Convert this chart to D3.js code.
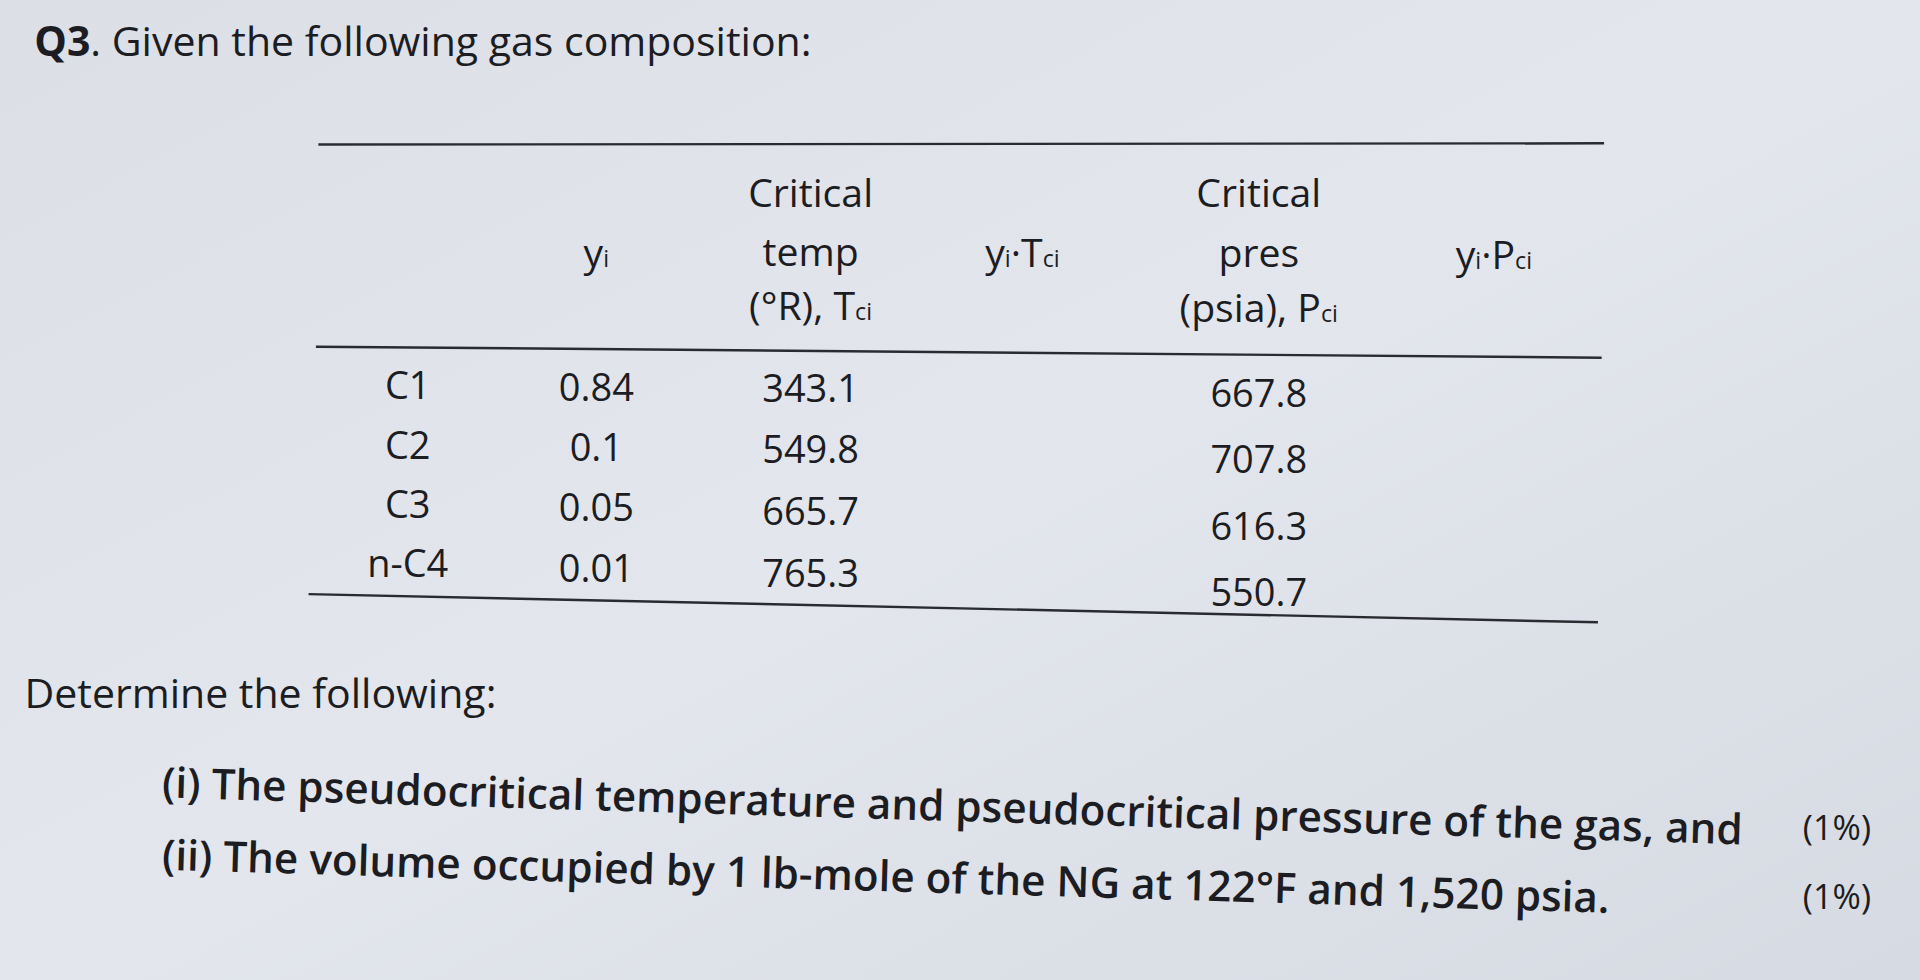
<!DOCTYPE html>
<html><head><meta charset="utf-8">
<script src="https://cdn.jsdelivr.net/npm/d3@7"></script>
<style>
html,body{margin:0;padding:0;overflow:hidden;background:#dfe3ea}
text{font-family:"Open Sans","Noto Sans",sans-serif;fill:#1c1d22;font-weight:500}
</style></head>
<body>
<script>
// table data
var components = ['C1', 'C2', 'C3', 'n-C4'];
var molFrac    = ['0.84', '0.1', '0.05', '0.01'];
var critTemp   = ['343.1', '549.8', '665.7', '765.3'];
var critPres   = ['667.8', '707.8', '616.3', '550.7'];
var tasks = [
	{ text: '(i) The pseudocritical temperature and pseudocritical pressure of the gas, and', pct: '(1%)' },
	{ text: '(ii) The volume occupied by 1 lb-mole of the NG at 122°F and 1,520 psia.', pct: '(1%)' }
];

var W = 1568, H = 800;
var svg = d3.select('body').append('svg')
	.attr('width', 1920).attr('height', 980)
	.attr('viewBox', '0 0 ' + W + ' ' + H)
	.attr('preserveAspectRatio', 'none');

var grad = svg.append('defs').append('linearGradient').attr('id', 'bg')
	.attr('x1', 0).attr('y1', 0).attr('x2', 1).attr('y2', 1);
grad.append('stop').attr('offset', 0).attr('stop-color', '#dcdfe6');
grad.append('stop').attr('offset', 0.5).attr('stop-color', '#e3e6ed');
grad.append('stop').attr('offset', 1).attr('stop-color', '#d6dae2');
svg.append('rect').attr('width', W).attr('height', H).attr('fill', 'url(#bg)');

// title
var title = svg.append('text').attr('x', 28).attr('y', 46).style('font-size', '33.5px');
title.append('tspan').style('font-weight', 'bold').text('Q3');
title.append('tspan').text('. Given the following gas composition:');

// table rules (slightly skewed like the photo)
var rules = [
	{ x1: 260, y1: 118, x2: 1310, y2: 117 },
	{ x1: 258, y1: 283, x2: 1308, y2: 292 },
	{ x1: 252, y1: 485, x2: 1305, y2: 508 }
];
svg.selectAll('line.rule').data(rules).enter().append('line')
	.attr('class', 'rule')
	.attr('x1', function(d) { return d.x1 }).attr('y1', function(d) { return d.y1 })
	.attr('x2', function(d) { return d.x2 }).attr('y2', function(d) { return d.y2 })
	.attr('stroke', '#2a2b30').attr('stroke-width', 2);

var colXs = { name: 333, y: 487, tc: 662, ytc: 835, pc: 1028, ypc: 1220 };

function hdr(x, y, parts) {
	var t = svg.append('text').attr('x', x).attr('y', y).attr('text-anchor', 'middle').style('font-size', '32px');
	parts.forEach(function(p) {
		var s = t.append('tspan').text(p[0]);
		if (p[1]) s.style('font-size', '19px');
	});
}
hdr(colXs.y, 218, [['y'], ['i', 1]]);
hdr(colXs.tc, 169, [['Critical']]);
hdr(colXs.tc, 217, [['temp']]);
hdr(colXs.tc, 261, [['(°R), T'], ['ci', 1]]);
hdr(colXs.ytc, 218, [['y'], ['i', 1], ['·T'], ['ci', 1]]);
hdr(colXs.pc, 169, [['Critical']]);
hdr(colXs.pc, 218, [['pres']]);
hdr(colXs.pc, 263, [['(psia), P'], ['ci', 1]]);
hdr(colXs.ypc, 220, [['y'], ['i', 1], ['·P'], ['ci', 1]]);

var rowY = d3.scalePoint().domain(d3.range(components.length)).range([327, 475]);
function col(arr, x, dy) {
	svg.selectAll(null).data(arr).enter().append('text')
		.attr('x', x).attr('y', function(d, i) { return rowY(i) + dy * (i + 1) })
		.attr('text-anchor', 'middle').style('font-size', '31px')
		.text(function(d) { return d });
}
col(components, colXs.name, -1);
col(molFrac, colXs.y, 0);
col(critTemp, colXs.tc, 1);
col(critPres, colXs.pc, 5);

svg.append('text').attr('x', 20).attr('y', 578).style('font-size', '33.5px').text('Determine the following:');

var tg = svg.selectAll('g.task').data(tasks).enter().append('g').attr('class', 'task');
tg.append('text')
	.attr('transform', function(d, i) { return 'translate(132,' + (651 + i * 59) + ') rotate(1.7)' })
	.style('font-size', '34.5px').style('font-weight', 600)
	.text(function(d) { return d.text });
tg.append('text')
	.attr('x', 1528).attr('y', function(d, i) { return 686 + i * 56 })
	.attr('text-anchor', 'end').style('font-size', '28px')
	.text(function(d) { return d.pct });
</script>
</body></html>
